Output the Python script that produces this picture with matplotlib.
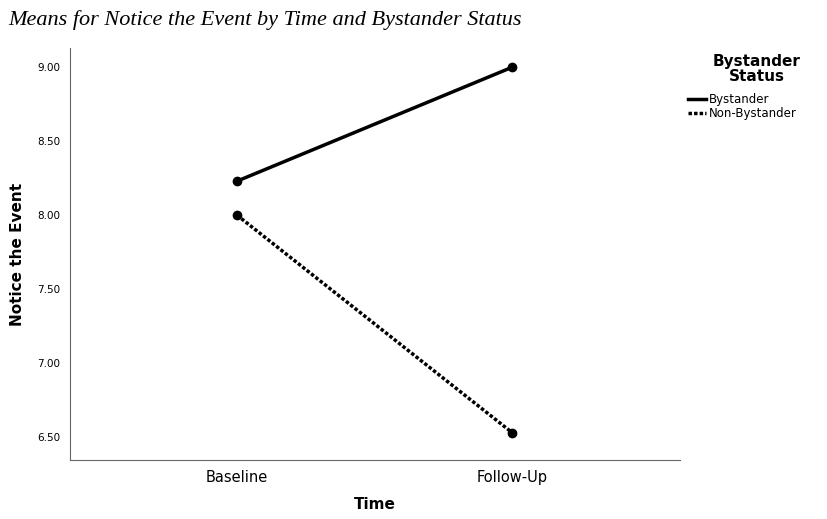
import matplotlib
matplotlib.use("Agg")
import matplotlib.pyplot as plt

# --- Data ---
times = ["Baseline", "Follow-Up"]
bystander = [8.23, 9.00]
non_bystander = [8.00, 6.53]
y_ticks = [6.50, 7.00, 7.50, 8.00, 8.50, 9.00]

plt.rcParams['font.family'] = 'DejaVu Sans'

fig = plt.figure(figsize=(8.27, 5.19), dpi=100)
ax = fig.add_axes([70 / 827, 1 - 460 / 519, 610 / 827, 412 / 519])

x = range(len(times))
ax.plot(x, bystander, color='black', linewidth=2.5, marker='o', markersize=6,
        label='Bystander')
ax.plot(x, non_bystander, color='black', linewidth=2.5, linestyle=(0, (1, 0.6)),
        marker='o', markersize=6, label='Non-Bystander')

ax.set_xlim(-0.607, 1.61)
ax.set_ylim(6.345, 9.13)
ax.set_xticks(list(x))
ax.set_xticklabels(times, fontsize=10.5)
ax.set_yticks(y_ticks)
ax.set_yticklabels([f"{v:.2f}" for v in y_ticks], fontsize=7.5)
ax.tick_params(length=0, pad=7)

for s in ['top', 'right']:
    ax.spines[s].set_visible(False)
for s in ['left', 'bottom']:
    ax.spines[s].set_color('#666666')
    ax.spines[s].set_linewidth(0.8)

ax.set_xlabel("Time", fontsize=11, fontweight='bold', labelpad=9)
ax.set_ylabel("Notice the Event", fontsize=11, fontweight='bold', labelpad=9)

fig.text(8 / 827, 1 - 20 / 519, "Means for Notice the Event by Time and Bystander Status",
         fontsize=16, fontstyle='italic', family='Liberation Serif', va='center')

fig.text(757 / 827, 1 - 69 / 519, "Bystander\nStatus", fontsize=11, fontweight='bold',
         ha='center', va='center', linespacing=0.95)
leg = fig.legend(loc='upper left', bbox_to_anchor=(688 / 827, 1 - 93 / 519),
                 frameon=False, fontsize=8.5, handlelength=1.5, handletextpad=0.3,
                 labelspacing=0.1, borderaxespad=0, borderpad=0)
for h in leg.get_lines():
    h.set_marker('')

fig.savefig("out.png", dpi=100)
